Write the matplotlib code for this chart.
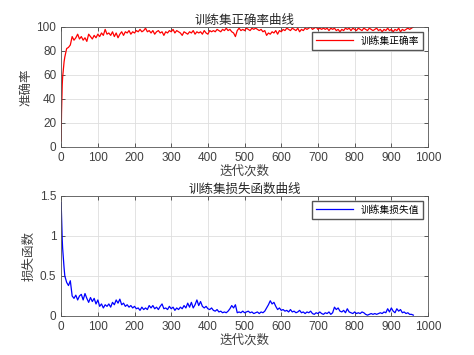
import matplotlib
matplotlib.use('Agg')
import matplotlib.pyplot as plt

plt.rcParams['font.family'] = ['Liberation Sans', 'Noto Sans CJK SC', 'DejaVu Sans']

# iteration numbers (dense at the start where the curves change fast)
iters = [0, 1, 2, 3, 4, 6, 8] + list(range(10, 965, 5))

# training accuracy (%)
acc = [5, 28, 42, 52, 58, 65, 71,
       75, 82, 83, 85, 92, 89, 91, 94, 90, 92, 89, 91, 88, 94, 92, 90, 93, 91, 94,
       92, 95, 93, 98, 94, 95, 93, 96, 92, 95, 91, 94, 96, 93, 96, 95, 97, 94, 96, 95,
       97, 96, 98, 96, 97, 99, 96, 97, 95, 97, 94, 96, 97, 95, 96, 93, 96, 95, 97, 96,
       98, 95, 97, 96, 95, 93, 96, 95, 94, 96, 95, 97, 94, 96, 95, 96, 94, 97, 95, 94,
       97, 96, 97, 96, 98, 97, 96, 98, 97, 99, 97, 98, 96, 95, 92, 97, 99, 97, 98, 97,
       99, 98, 97, 99, 98, 99, 98, 97, 98, 96, 97, 93, 95, 94, 96, 95, 97, 94, 97, 96,
       98, 97, 99, 98, 97, 99, 98, 97, 99, 96, 98, 97, 99, 98, 99, 100, 98, 99, 100, 98,
       99, 98, 99, 98, 99, 97, 99, 98, 99, 97, 98, 96, 98, 97, 99, 98, 99, 97, 99, 98,
       97, 99, 98, 97, 99, 98, 97, 99, 98, 97, 98, 99, 97, 98, 96, 98, 97, 99, 97, 98,
       96, 98, 97, 99, 96, 98, 97, 98, 99, 98, 99, 100]

# training loss
loss = [1.42, 1.25, 1.1, 0.95, 0.85, 0.72, 0.6,
        0.5, 0.42, 0.38, 0.44, 0.25, 0.22, 0.26, 0.2, 0.25, 0.27, 0.2, 0.28, 0.22, 0.17, 0.23, 0.18, 0.22, 0.15, 0.2,
        0.12, 0.15, 0.1, 0.14, 0.12, 0.15, 0.11, 0.17, 0.14, 0.2, 0.16, 0.21, 0.14, 0.16, 0.12, 0.14, 0.11, 0.13, 0.1, 0.12,
        0.09, 0.1, 0.07, 0.11, 0.08, 0.1, 0.08, 0.13, 0.1, 0.13, 0.09, 0.11, 0.08, 0.12, 0.15, 0.09, 0.1, 0.08, 0.12, 0.09,
        0.11, 0.07, 0.1, 0.08, 0.11, 0.09, 0.13, 0.1, 0.16, 0.11, 0.17, 0.1, 0.14, 0.2, 0.13, 0.18, 0.12, 0.1, 0.12, 0.09,
        0.08, 0.1, 0.07, 0.06, 0.08, 0.05, 0.06, 0.04, 0.05, 0.04, 0.06, 0.09, 0.13, 0.1, 0.14, 0.04, 0.05, 0.04, 0.06, 0.04,
        0.05, 0.06, 0.04, 0.05, 0.03, 0.04, 0.05, 0.03, 0.05, 0.04, 0.06, 0.1, 0.14, 0.19, 0.15, 0.17, 0.12, 0.08, 0.1, 0.07,
        0.08, 0.06, 0.07, 0.05, 0.08, 0.05, 0.06, 0.04, 0.05, 0.07, 0.04, 0.05, 0.03, 0.05, 0.04, 0.06, 0.03, 0.02, 0.04, 0.03,
        0.05, 0.03, 0.02, 0.04, 0.03, 0.05, 0.02, 0.04, 0.11, 0.08, 0.1, 0.06, 0.05, 0.07, 0.04, 0.09, 0.05, 0.04, 0.03, 0.05,
        0.03, 0.04, 0.03, 0.05, 0.04, 0.02, 0.01, 0.02, 0.03, 0.02, 0.03, 0.02, 0.03, 0.04, 0.03, 0.05, 0.04, 0.09, 0.05, 0.1,
        0.06, 0.04, 0.09, 0.06, 0.08, 0.04, 0.05, 0.03, 0.04, 0.02, 0.02, 0.01]

xticks = list(range(0, 1001, 100))

fig = plt.figure(figsize=(4.74, 3.55), dpi=100)
ax1 = fig.add_axes([0.129, 0.586, 0.774, 0.338])
ax2 = fig.add_axes([0.129, 0.110, 0.774, 0.338])

def style(ax):
    ax.grid(True, color='#dedede', linewidth=0.6)
    ax.set_axisbelow(True)
    for s in ax.spines.values():
        s.set_color('#555555')
        s.set_linewidth(0.6)
    ax.tick_params(direction='in', length=3, width=0.6, colors='#404040',
                   labelsize=8.5, top=True, right=True, labeltop=False, labelright=False)
    ax.set_xlim(0, 1000)
    ax.set_xticks(xticks)
    ax.set_xlabel('迭代次数', fontsize=9, color='#404040', labelpad=1)

ax1.plot(iters, acc, color='#ff0000', linewidth=0.9, label='训练集正确率')
style(ax1)
ax1.set_ylim(0, 100)
ax1.set_yticks(range(0, 101, 20))
ax1.set_ylabel('准确率', fontsize=9, color='#404040', labelpad=3)
ax1.set_title('训练集正确率曲线', fontsize=9, color='#262626', pad=2)
ax1.legend(loc='upper right', fontsize=7, fancybox=False, edgecolor='#555555',
           framealpha=1, handlelength=3.8, borderpad=0.4)

ax2.plot(iters, loss, color='#0000ff', linewidth=0.9, label='训练集损失值')
style(ax2)
ax2.set_ylim(0, 1.5)
ax2.set_yticks([0, 0.5, 1, 1.5])
ax2.set_yticklabels(['0', '0.5', '1', '1.5'])
ax2.set_ylabel('损失函数', fontsize=9, color='#404040', labelpad=3)
ax2.set_title('训练集损失函数曲线', fontsize=9, color='#262626', pad=2)
ax2.legend(loc='upper right', fontsize=7, fancybox=False, edgecolor='#555555',
           framealpha=1, handlelength=3.8, borderpad=0.4)

fig.savefig('out.png', dpi=100)
